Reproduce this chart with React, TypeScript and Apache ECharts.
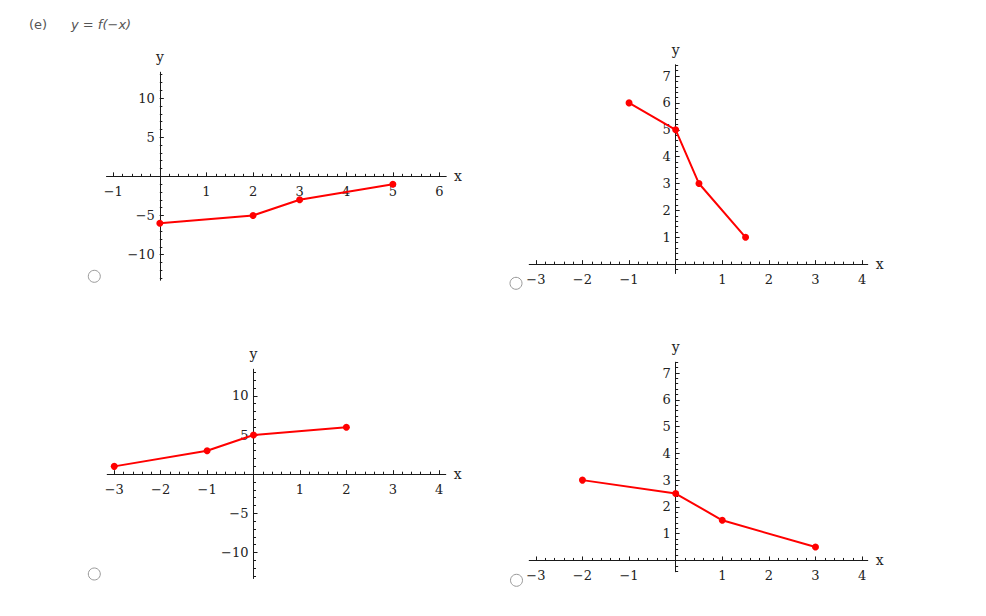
import React, { useEffect, useRef } from "react";
import * as echarts from "echarts";

// Data for each of the four panels
const p1X = [0, 2, 3, 5];
const p1Y = [-6, -5, -3, -1];
const p2X = [-1, 0, 0.5, 1.5];
const p2Y = [6, 5, 3, 1];
const p3X = [-3, -1, 0, 2];
const p3Y = [1, 3, 5, 6];
const p4X = [-2, 0, 1, 3];
const p4Y = [3, 2.5, 1.5, 0.5];

// Tick labels
const p1XLabels = [-1, 1, 2, 3, 4, 5, 6];
const bigYLabels = [-10, -5, 5, 10];
const wideXLabels = [-3, -2, -1, 1, 2, 3, 4];
const smallYLabels = [1, 2, 3, 4, 5, 6, 7];

const range = (a: number, b: number, step: number) => {
  const out: number[] = [];
  const n = Math.round((b - a) / step);
  for (let k = 0; k <= n; k++) out.push(Math.round((a + k * step) * 100) / 100);
  return out;
};

const SERIF = "DejaVu Serif";
const AXIS_COLOR = "#1a1a1a";
const LABEL_COLOR = "#222";
const fmt = (v: number) => String(v).replace("-", "\u2212");

type Panel = {
  left: number; top: number; width: number; height: number;
  xMin: number; xMax: number; yMin: number; yMax: number;
  xLabels: number[]; yLabels: number[];
  xMajor: number[]; yMajor: number[];
  xMinor: number[]; yMinor: number[];
  xs: number[]; ys: number[];
};

const panels: Panel[] = [
  {
    left: 106.7, top: 72.3, width: 339.3, height: 207.7,
    xMin: -1.14, xMax: 6.14, yMin: -13.25, yMax: 13.3,
    xLabels: p1XLabels, yLabels: bigYLabels,
    xMajor: range(-1, 6, 1), yMajor: [-10, -5, 5, 10],
    xMinor: range(-1, 6, 0.2), yMinor: range(-13, 13, 1),
    xs: p1X, ys: p1Y,
  },
  {
    left: 529.3, top: 65, width: 338.4, height: 208.3,
    xMin: -3.14, xMax: 4.12, yMin: -0.34, yMax: 7.41,
    xLabels: wideXLabels, yLabels: smallYLabels,
    xMajor: range(-3, 4, 1), yMajor: range(1, 7, 1),
    xMinor: range(-3, 4, 0.2), yMinor: range(-0.2, 7.4, 0.2),
    xs: p2X, ys: p2Y,
  },
  {
    left: 107.3, top: 369.3, width: 338.4, height: 209,
    xMin: -3.15, xMax: 4.14, yMin: -13.3, yMax: 13.4,
    xLabels: wideXLabels, yLabels: bigYLabels,
    xMajor: range(-3, 4, 1), yMajor: [-10, -5, 5, 10],
    xMinor: range(-3, 4, 0.2), yMinor: range(-13, 13, 1),
    xs: p3X, ys: p3Y,
  },
  {
    left: 529.3, top: 362.3, width: 338.4, height: 209.4,
    xMin: -3.14, xMax: 4.12, yMin: -0.42, yMax: 7.4,
    xLabels: wideXLabels, yLabels: smallYLabels,
    xMajor: range(-3, 4, 1), yMajor: range(1, 7, 1),
    xMinor: range(-3, 4, 0.2), yMinor: range(-0.4, 7.4, 0.2),
    xs: p4X, ys: p4Y,
  },
];

const radios = [
  [94.3, 276.3],
  [516, 283.3],
  [94.3, 574],
  [516.5, 580.3],
];

export default function App() {
  const ref = useRef<HTMLDivElement>(null);
  useEffect(() => {
    if (!ref.current) return;
    const chart = echarts.init(ref.current, null, { renderer: "svg" });

    const grid: any[] = [];
    const xAxis: any[] = [];
    const yAxis: any[] = [];
    const series: any[] = [];
    const lineStyle = { color: AXIS_COLOR, width: 1 };
    const labelStyle = { fontFamily: SERIF, fontSize: 13, color: LABEL_COLOR };

    panels.forEach((p, i) => {
      const g = grid.length;
      grid.push({ left: p.left, top: p.top, width: p.width, height: p.height, containLabel: false });
      const xi = xAxis.length;
      const yi = yAxis.length;
      // major x axis (line, ticks, name)
      xAxis.push({
        type: "value", gridIndex: g, min: p.xMin, max: p.xMax, position: "bottom",
        name: "x", nameLocation: "end", nameGap: 8,
        nameTextStyle: { fontFamily: SERIF, fontSize: 14, color: LABEL_COLOR },
        axisLine: { show: true, onZero: true, lineStyle },
        axisTick: { show: true, inside: true, length: 4, customValues: p.xMajor, lineStyle },
        axisLabel: { show: false },
        splitLine: { show: false },
      });
      // minor x axis
      xAxis.push({
        type: "value", gridIndex: g, min: p.xMin, max: p.xMax, position: "bottom",
        axisLine: { show: true, onZero: true, lineStyle },
        axisTick: { show: true, inside: true, length: 2.5, customValues: p.xMinor, lineStyle },
        axisLabel: { show: false },
        splitLine: { show: false },
      });
      // major y axis
      yAxis.push({
        type: "value", gridIndex: g, min: p.yMin, max: p.yMax, position: "left",
        name: "y", nameLocation: "end", nameGap: 8,
        nameTextStyle: { fontFamily: SERIF, fontSize: 14, color: LABEL_COLOR },
        axisLine: { show: true, onZero: true, lineStyle },
        axisTick: { show: true, inside: true, length: 4, customValues: p.yMajor, lineStyle },
        axisLabel: { show: false },
        splitLine: { show: false },
      });
      // minor y axis
      yAxis.push({
        type: "value", gridIndex: g, min: p.yMin, max: p.yMax, position: "left",
        axisLine: { show: true, onZero: true, lineStyle },
        axisTick: { show: true, inside: true, length: 2.5, customValues: p.yMinor, lineStyle },
        axisLabel: { show: false },
        splitLine: { show: false },
      });
      series.push({
        type: "line",
        xAxisIndex: xi,
        yAxisIndex: yi,
        data: p.xs.map((x, k) => [x, p.ys[k]]),
        symbol: "circle",
        symbolSize: 7,
        lineStyle: { color: "#ff0000", width: 2 },
        itemStyle: { color: "#ff0000" },
        z: 5,
      });

      // pixel position of the zero lines (layout only)
      const zeroY = p.top + (p.height * p.yMax) / (p.yMax - p.yMin);
      const zeroX = p.left + (p.width * -p.xMin) / (p.xMax - p.xMin);

      // label grid for x tick labels: its bottom edge sits on y = 0
      const gx = grid.length;
      grid.push({ left: p.left, width: p.width, top: zeroY - 10, height: 10, containLabel: false });
      xAxis.push({
        type: "value", gridIndex: gx, min: p.xMin, max: p.xMax, position: "bottom",
        axisLine: { show: false, onZero: false }, axisTick: { show: false },
        axisLabel: { show: true, customValues: p.xLabels, formatter: fmt, margin: 9, ...labelStyle },
        splitLine: { show: false },
      });
      yAxis.push({ type: "value", gridIndex: gx, min: 0, max: 1, show: false, splitLine: { show: false } });

      // label grid for y tick labels: its left edge sits on x = 0
      const gy = grid.length;
      grid.push({ left: zeroX, width: 10, top: p.top, height: p.height, containLabel: false });
      xAxis.push({ type: "value", gridIndex: gy, min: 0, max: 1, show: false, splitLine: { show: false } });
      yAxis.push({
        type: "value", gridIndex: gy, min: p.yMin, max: p.yMax, position: "left",
        axisLine: { show: false, onZero: false }, axisTick: { show: false },
        axisLabel: { show: true, customValues: p.yLabels, formatter: fmt, margin: 5, ...labelStyle },
        splitLine: { show: false },
      });
    });

    const graphic: any[] = [
      {
        type: "text", left: 29, top: 18,
        style: { text: "(e)", font: "13px 'DejaVu Sans'", fill: "#555" },
      },
      {
        type: "text", left: 71, top: 18,
        style: { text: "y = f(\u2212x)", font: "italic 13px 'DejaVu Sans'", fill: "#555" },
      },
      ...radios.map(([cx, cy]) => ({
        type: "circle",
        shape: { cx, cy, r: 6 },
        style: { fill: "#fff", stroke: "#999", lineWidth: 1 },
      })),
    ];

    chart.setOption({
      animation: false,
      grid,
      xAxis,
      yAxis,
      series,
      graphic,
    });
    return () => chart.dispose();
  }, []);

  return (
    <div
      ref={ref}
      style={{ position: "fixed", left: 0, top: 0, width: 986, height: 616, background: "#fff" }}
    />
  );
}
